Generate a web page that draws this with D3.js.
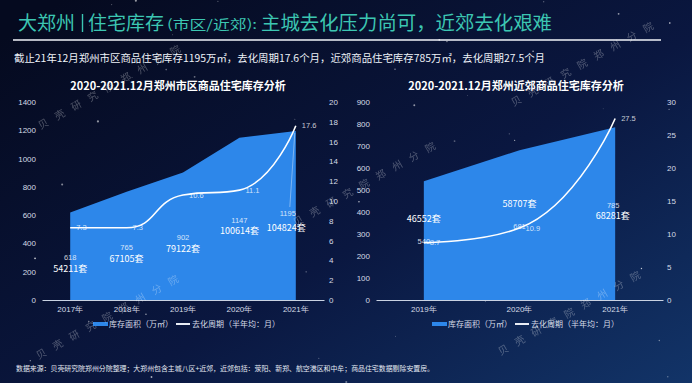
<!DOCTYPE html>
<html lang="zh">
<head>
<meta charset="UTF-8">
<title>大郑州 住宅库存</title>
<script src="https://cdnjs.cloudflare.com/ajax/libs/d3/7.8.5/d3.min.js"></script>
<style>
  html, body { margin: 0; padding: 0; background: #060c24; }
  svg { display: block; font-family: "Noto Sans CJK SC", "Noto Sans", sans-serif; }
</style>
</head>
<body>
<div id="chart"></div>
<script>
// ---- data ----
const cityYears   = ["2017年", "2018年", "2019年", "2020年", "2021年"];
const cityStock   = [618, 765, 902, 1147, 1195];          // 库存面积（万㎡）
const cityCycle   = [7.3, 7.3, 10.6, 11.1, 17.6];         // 去化周期（月）
const cityUnits   = [54211, 67105, 79122, 100614, 104824]; // 套
const cityStockTicks = [0, 200, 400, 600, 800, 1000, 1200, 1400];
const cityCycleTicks = [0, 2, 4, 6, 8, 10, 12, 14, 16, 18, 20];

const subYears   = ["2019年", "2020年", "2021年"];
const subStock   = [540, 681, 785];
const subCycle   = [8.7, 10.9, 27.5];
const subUnits   = [46552, 58707, 68281];
const subStockTicks = [0, 100, 200, 300, 400, 500, 600, 700, 800, 900];
const subCycleTicks = [0, 5, 10, 15, 20, 25, 30];

// where the text boxes sit, in units of the stock axis (they were placed by hand on the slide)
const cityUnitsAt = [219, 290, 361, 488, 509];
const cityStockAt = [304, 375, 445, 566, 615];
const subUnitsAt  = [368, 436, 382];
const subStockAt  = [268, 336, 430];

const W = 692, H = 383;
const svg = d3.select("#chart").append("svg").attr("width", W).attr("height", H);
const defs = svg.append("defs");

// background
const bg = defs.append("linearGradient").attr("id", "bg")
  .attr("x1", 0).attr("y1", 0.1).attr("x2", 1).attr("y2", 1);
bg.append("stop").attr("offset", "0%").attr("stop-color", "#050a1f");
bg.append("stop").attr("offset", "55%").attr("stop-color", "#0a1740");
bg.append("stop").attr("offset", "100%").attr("stop-color", "#123468");
svg.append("rect").attr("width", W).attr("height", H).attr("fill", "url(#bg)");

// a few faint stars (fixed seed so the picture is stable)
const rnd = d3.randomLcg(0.42);
const stars = d3.range(55).map(() => [rnd() * W, rnd() * H, 0.4 + rnd() * 0.7, 0.25 + rnd() * 0.6]);
svg.append("g").selectAll("circle").data(stars).join("circle")
  .attr("cx", d => d[0]).attr("cy", d => d[1]).attr("r", d => d[2])
  .attr("fill", "#fff").attr("opacity", d => d[3]);

// ---- header ----
const teal = "#3cc6b2";
const title = svg.append("text").attr("y", 30).attr("fill", teal);
title.append("tspan").attr("x", 18).attr("font-size", 19).text("大郑州");
title.append("tspan").attr("x", 88).attr("font-size", 19).text("住宅库存");
title.append("tspan").attr("x", 167).attr("font-size", 13).attr("dy", -1)
  .attr("textLength", 90).attr("lengthAdjust", "spacingAndGlyphs").text("(市区/近郊):");
title.append("tspan").attr("x", 261).attr("font-size", 19).attr("dy", 1)
  .attr("textLength", 291).attr("lengthAdjust", "spacingAndGlyphs")
  .text("主城去化压力尚可，近郊去化艰难");
svg.append("line").attr("x1", 82.5).attr("x2", 82.5).attr("y1", 14).attr("y2", 32)
  .attr("stroke", teal).attr("stroke-width", 1.4);

svg.append("line").attr("x1", 13).attr("x2", 661).attr("y1", 40).attr("y2", 40)
  .attr("stroke", "#f2f5fa").attr("stroke-width", 1.5);

svg.append("text").attr("x", 14).attr("y", 62).attr("font-size", 10).attr("fill", "#eef2f8")
  .attr("textLength", 531).attr("lengthAdjust", "spacingAndGlyphs")
  .text("截止21年12月郑州市区商品住宅库存1195万㎡，去化周期17.6个月，近郊商品住宅库存785万㎡，去化周期27.5个月");

svg.append("text").attr("x", 16).attr("y", 371).attr("font-size", 7).attr("fill", "#e4e9f2")
  .attr("textLength", 418).attr("lengthAdjust", "spacingAndGlyphs")
  .text("数据来源：贝壳研究院郑州分院整理；大郑州包含主城八区+近郊，近郊包括：荥阳、新郑、航空港区和中牟；商品住宅数据剔除安置房。");

// ECharts-style smooth line (control points kept between neighbours)
function smoothPath(pts, smooth) {
  const p = d3.path();
  const clamp = (v, a, b) => Math.max(Math.min(a, b), Math.min(Math.max(a, b), v));
  p.moveTo(pts[0][0], pts[0][1]);
  let cpOut = pts[0];
  for (let i = 1; i < pts.length; i++) {
    const [x, y] = pts[i];
    let cpIn = [x, y], nextOut = null;
    if (i < pts.length - 1) {
      const prev = pts[i - 1], next = pts[i + 1];
      const lp = Math.hypot(x - prev[0], y - prev[1]);
      const ln = Math.hypot(next[0] - x, next[1] - y);
      const r = ln / (ln + lp);
      let nx = clamp(x + (next[0] - prev[0]) * smooth * r, x, next[0]);
      let ny = clamp(y + (next[1] - prev[1]) * smooth * r, y, next[1]);
      let cx = clamp(x - (nx - x) * lp / ln, prev[0], x);
      let cy = clamp(y - (ny - y) * lp / ln, prev[1], y);
      nx = x + (x - cx) * ln / lp;
      ny = y + (y - cy) * ln / lp;
      cpIn = [cx, cy];
      nextOut = [nx, ny];
    }
    p.bezierCurveTo(cpOut[0], cpOut[1], cpIn[0], cpIn[1], x, y);
    cpOut = nextOut;
  }
  return p.toString();
}

const blue = "#2d87ea";

function drawChart(o) {
  const g = svg.append("g");
  const x = d3.scaleBand().domain(o.years).range([o.x0, o.x1]);
  const cx = d => x(d) + x.bandwidth() / 2;
  const yL = d3.scaleLinear().domain(d3.extent(o.leftTicks)).range([300, 102]);
  const yR = d3.scaleLinear().domain(d3.extent(o.rightTicks)).range([300, 102]);

  g.append("text").attr("x", o.titleX).attr("y", 90).attr("text-anchor", "middle")
    .attr("font-size", 11).attr("font-weight", "bold").attr("fill", "#fff").text(o.title);

  // area
  const area = d3.area().x((d, i) => cx(o.years[i])).y0(yL(0)).y1(d => yL(d));
  g.append("path").datum(o.stock).attr("d", area).attr("fill", blue);

  // axes
  const axL = g.append("g").attr("transform", `translate(${o.x0 - 6},0)`)
    .call(d3.axisLeft(yL).tickValues(o.leftTicks).tickFormat(d3.format("d")).tickSize(0).tickPadding(0));
  const axR = g.append("g").attr("transform", `translate(${o.x1 + o.rightGap},0)`)
    .call(d3.axisRight(yR).tickValues(o.rightTicks).tickFormat(d3.format("d")).tickSize(0).tickPadding(0));
  [axL, axR].forEach(a => {
    a.select(".domain").remove();
    a.selectAll("text").attr("font-size", 8).attr("fill", "#d5dbe6").attr("font-family", "Liberation Sans, sans-serif");
  });
  const axX = g.append("g").attr("transform", "translate(0,300)")
    .call(d3.axisBottom(x).tickSize(0).tickPadding(6));
  axX.select(".domain").attr("stroke", "#c9d2e2").attr("stroke-width", 1);
  axX.selectAll("text").attr("font-size", 8).attr("fill", "#d5dbe6");

  // line
  const pts = o.cycle.map((v, i) => [cx(o.years[i]), yR(v)]);
  g.append("path").attr("d", smoothPath(pts, 0.5)).attr("fill", "none")
    .attr("stroke", "#fff").attr("stroke-width", 1.6);

  g.selectAll(".cyc").data(o.cycle).join("text")
    .attr("x", (d, i) => cx(o.years[i]) + 6).attr("y", d => yR(d))
    .attr("dy", "0.35em").attr("font-size", 7.5)
    .attr("font-family", "Liberation Sans, sans-serif")
    .attr("fill", "rgba(255,255,255,0.78)").text(d => d);

  // leader line for a moved label
  if (o.leader != null) {
    const i = o.leader;
    g.append("line")
      .attr("x1", cx(o.years[i]) - 1).attr("y1", yL(o.stock[i]) + 2)
      .attr("x2", cx(o.years[i]) + o.lastDx + 2).attr("y2", yL(o.stockAt[i]) - 6)
      .attr("stroke", "rgba(255,255,255,0.55)").attr("stroke-width", 0.7);
  }

  const dxOf = i => (i === o.years.length - 1 ? o.lastDx : 0);
  g.selectAll(".stk").data(o.stock).join("text")
    .attr("x", (d, i) => cx(o.years[i]) + dxOf(i)).attr("y", (d, i) => yL(o.stockAt[i]))
    .attr("dy", "0.35em").attr("text-anchor", "middle").attr("font-size", 7.5)
    .attr("font-family", "Liberation Sans, sans-serif")
    .attr("fill", "rgba(255,255,255,0.8)").text(d => d);

  g.selectAll(".unit").data(o.units).join("text")
    .attr("x", (d, i) => cx(o.years[i]) + dxOf(i) * 1.2).attr("y", (d, i) => yL(o.unitsAt[i]))
    .attr("dy", "0.35em").attr("text-anchor", "middle").attr("font-size", 9)
    .attr("fill", "#fff").text(d => d + "套");

  // legend
  const lg = g.append("g").attr("transform", `translate(${o.legendX},324)`);
  lg.append("rect").attr("x", 0).attr("y", -2).attr("width", 15).attr("height", 4).attr("fill", blue);
  lg.append("text").attr("x", 16).attr("dy", "0.35em").attr("font-size", 8).attr("fill", "#d5dbe6")
    .text("库存面积（万㎡）");
  lg.append("line").attr("x1", 83).attr("x2", 97).attr("stroke", "#e8ecf4").attr("stroke-width", 2);
  lg.append("text").attr("x", 99).attr("dy", "0.35em").attr("font-size", 8).attr("fill", "#d5dbe6")
    .text("去化周期（半年均：月）");
}

drawChart({
  title: "2020-2021.12月郑州市区商品住宅库存分析", titleX: 178,
  years: cityYears, stock: cityStock, cycle: cityCycle, units: cityUnits,
  leftTicks: cityStockTicks, rightTicks: cityCycleTicks,
  stockAt: cityStockAt, unitsAt: cityUnitsAt,
  x0: 42, x1: 324, rightGap: 5, legendX: 93, lastDx: -8, leader: 4
});
drawChart({
  title: "2020-2021.12月郑州近郊商品住宅库存分析", titleX: 516,
  years: subYears, stock: subStock, cycle: subCycle, units: subUnits,
  leftTicks: subStockTicks, rightTicks: subCycleTicks,
  stockAt: subStockAt, unitsAt: subUnitsAt,
  x0: 376, x1: 663, rightGap: 4, legendX: 432, lastDx: -2, leader: null
});

// watermark
const mark = "贝壳研究院郑州分院".split("");
const markStarts = [[45, 127], [43, 357], [300, 224], [518, 104], [505, 353]];
const wm = svg.append("g").attr("fill", "#fff").attr("opacity", 0.28).attr("font-size", 10);
markStarts.forEach(([sx, sy]) => {
  mark.forEach((ch, i) => {
    const px = sx + i * 16.5, py = sy - i * 9.2;
    wm.append("text").attr("x", px).attr("y", py).attr("text-anchor", "middle")
      .attr("transform", `rotate(-30,${px},${py})`).text(ch);
  });
});
</script>
</body>
</html>
